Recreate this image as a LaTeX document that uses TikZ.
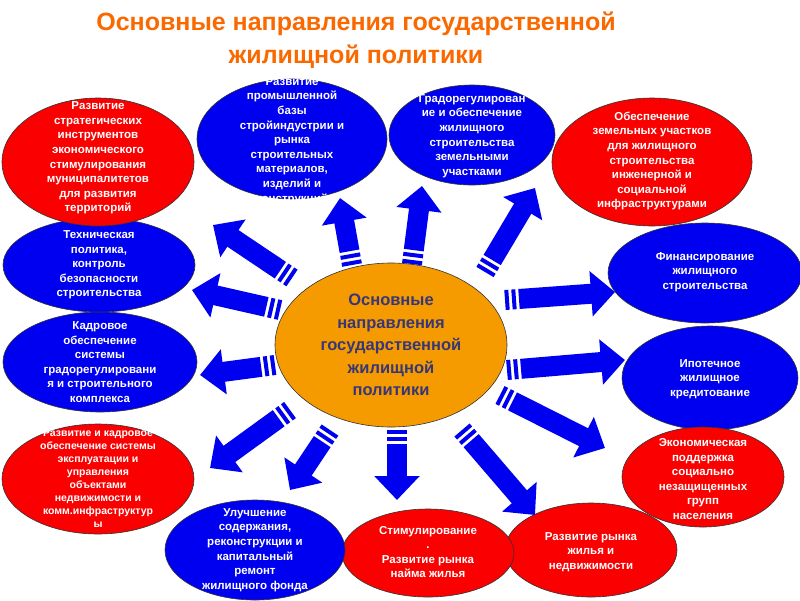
\documentclass[tikz,border=0pt]{standalone}
\usepackage{fontspec}
\setmainfont{Liberation Sans}
\usetikzlibrary{arrows.meta}
\usetikzlibrary{shapes.geometric}
\definecolor{ttlorange}{RGB}{250,105,0}
\definecolor{ovred}{RGB}{250,0,0}
\definecolor{ovblue}{RGB}{0,0,240}
\definecolor{hubfill}{RGB}{245,155,0}
\definecolor{hubtext}{RGB}{55,55,120}

\begin{document}
\begin{tikzpicture}[x=1pt,y=-1pt,
    oval/.style={ellipse, draw=black!80, line width=0.6pt, inner sep=0pt},
    redoval/.style={oval, fill=ovred},
    blueoval/.style={oval, fill=ovblue},
    ovaltext/.style={white, font=\bfseries\fontsize{11.5}{14.6}\selectfont, align=center, inner sep=0pt},
    spoke/.style={ovblue, line width=20pt, dash pattern=on 4pt off 3pt on 4pt off 3pt on 500pt off 1pt, -{Triangle[length=24pt,width=44pt]}}]
    \useasboundingbox[fill=white] (0,0) rectangle (800,600);

    % ovals round the hub
    \node[blueoval, minimum width=194pt, minimum height=100pt] (fin) at (705,273) {};
    \node[blueoval, minimum width=176pt, minimum height=104pt] (ipot) at (710,378) {};
    \node[redoval, minimum width=172pt, minimum height=94pt] (rynok) at (591,550) {};
    \node[redoval, minimum width=162pt, minimum height=100pt] (econ) at (703,477) {};
    \node[redoval, minimum width=172pt, minimum height=88pt] (stim) at (428,553) {};
    \node[blueoval, minimum width=180pt, minimum height=100pt] (uluch) at (255,550) {};
    \node[redoval, minimum width=192pt, minimum height=110pt] (expl) at (98,479) {};
    \node[blueoval, minimum width=194pt, minimum height=100pt] (kadr) at (100,362) {};
    \node[blueoval, minimum width=192pt, minimum height=94pt] (tech) at (99,265) {};
    \node[redoval, minimum width=192pt, minimum height=128pt] (strat) at (98,162) {};
    \node[blueoval, minimum width=190pt, minimum height=120pt] (prom) at (292,139) {};
    \node[blueoval, minimum width=166pt, minimum height=100pt] (grad) at (472,135) {};
    \node[redoval, minimum width=200pt, minimum height=128pt] (zem) at (652,162) {};
    \node[oval, fill=hubfill, minimum width=232pt, minimum height=164pt] (hub) at (391,345) {};

    \node[ovaltext] (strat-t) at (98,158) {Развитие\\стратегических\\инструментов\\экономического\\стимулирования\\муниципалитетов\\для развития\\территорий};
    \node[ovaltext] (prom-t) at (292,141) {Развитие\\промышленной\\базы\\стройиндустрии и\\рынка\\строительных\\материалов,\\изделий и\\конструкций};
    \node[ovaltext] (grad-t) at (472,136) {Градорегулирован\\ие и обеспечение\\жилищного\\строительства\\земельными\\участками};
    \node[ovaltext] (zem-t) at (652,161) {Обеспечение\\земельных участков\\для жилищного\\строительства\\инженерной и\\социальной\\инфраструктурами};
    \node[ovaltext] (tech-t) at (99,265) {Техническая\\политика,\\контроль\\безопасности\\строительства};
    \node[ovaltext] (kadr-t) at (100,362) {Кадровое\\обеспечение\\системы\\градорегулировани\\я и строительного\\комплекса};
    \node[ovaltext, font=\bfseries\fontsize{10.5}{13}\selectfont] (expl-t) at (98,478) {Развитие и кадровое\\обеспечение системы\\эксплуатации и\\управления\\объектами\\недвижимости и\\комм.инфраструктур\\ы};
    \node[ovaltext] (uluch-t) at (255,550) {Улучшение\\содержания,\\реконструкции и\\капитальный\\ремонт\\жилищного фонда};
    \node[ovaltext] (stim-t) at (428,552) {Стимулирование\\.\\Развитие рынка\\найма жилья};
    \node[ovaltext] (rynok-t) at (591,552) {Развитие рынка\\жилья и\\недвижимости};
    \node[ovaltext] (econ-t) at (703,479) {Экономическая\\поддержка\\социально\\незащищенных\\групп\\населения};
    \node[ovaltext] (ipot-t) at (710,379) {Ипотечное\\жилищное\\кредитование};
    \node[ovaltext] (fin-t) at (705,272) {Финансирование\\жилищного\\строительства};
    \node[ovaltext, text=hubtext, font=\bfseries\fontsize{16.5}{22.5}\selectfont] (hub-t) at (391,345) {Основные\\направления\\государственной\\жилищной\\политики};

    % striped arrows
    \coordinate (a0) at (352,265); \coordinate (a1) at (340,198);
    \coordinate (b0) at (412,264); \coordinate (b1) at (422,186);
    \coordinate (c0) at (485,272); \coordinate (c1) at (535,188);
    \coordinate (d0) at (505,300); \coordinate (d1) at (615,292);
    \coordinate (e0) at (507,370); \coordinate (e1) at (625,360);
    \coordinate (f0) at (500,395); \coordinate (f1) at (605,448);
    \coordinate (g0) at (462,430); \coordinate (g1) at (535,515);
    \coordinate (h0) at (397,430); \coordinate (h1) at (397,500);
    \coordinate (i0) at (330,430); \coordinate (i1) at (290,490);
    \coordinate (j0) at (290,410); \coordinate (j1) at (210,468);
    \coordinate (k0) at (275,365); \coordinate (k1) at (200,375);
    \coordinate (l0) at (280,310); \coordinate (l1) at (192,290);
    \coordinate (m0) at (292,278); \coordinate (m1) at (213,225);
    \draw[spoke] (a0) -- (a1);
    \draw[spoke] (b0) -- (b1);
    \draw[spoke] (c0) -- (c1);
    \draw[spoke] (d0) -- (d1);
    \draw[spoke] (e0) -- (e1);
    \draw[spoke] (f0) -- (f1);
    \draw[spoke] (g0) -- (g1);
    \draw[spoke] (h0) -- (h1);
    \draw[spoke] (i0) -- (i1);
    \draw[spoke] (j0) -- (j1);
    \draw[spoke] (k0) -- (k1);
    \draw[spoke] (l0) -- (l1);
    \draw[spoke] (m0) -- (m1);

    \node[text=ttlorange, font=\bfseries\fontsize{25}{33}\selectfont, align=center] (title) at (356,40) {Основные направления государственной\\жилищной политики};
\end{tikzpicture}
\end{document}
